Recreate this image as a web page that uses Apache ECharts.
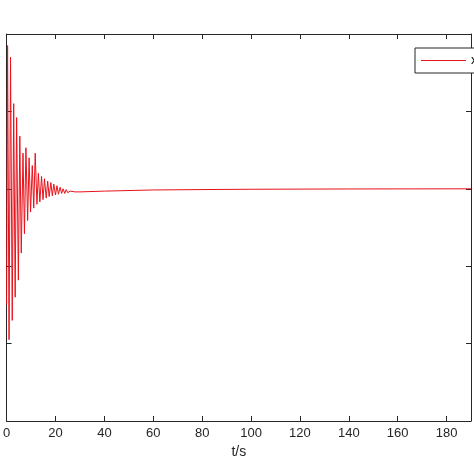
<!DOCTYPE html>
<html>
<head>
<meta charset="utf-8">
<script src="https://cdn.jsdelivr.net/npm/echarts@6/dist/echarts.min.js"></script>
<style>html,body{margin:0;padding:0;background:#fff}#main{width:474px;height:474px}</style>
</head>
<body>
<div id="main"></div>
<script>
// 响应数据 (t, x1)
var timeData = [0, 0.4, 1.0, 1.6, 2.3, 2.9, 3.5, 4.1, 4.8, 5.4, 6.0, 6.7, 7.3, 7.9, 8.6, 9.2, 9.8, 10.5, 11.1, 11.7,
  12.4, 13.0, 13.6, 14.3, 14.9, 15.5, 16.2, 16.8, 17.4, 18.1, 18.7, 19.3, 20, 20.6, 21.2, 21.9, 22.5, 23.1, 23.8, 24.4,
  25, 26, 28, 30, 40, 60, 80, 100, 140, 190];
var x1Data = [-1.5, 1.85, -1.95, 1.7, -1.7, 1.1, -1.4, 0.92, -1.18, 0.68, -0.83, 0.46, -0.58, 0.53, -0.41, 0.4, -0.3, 0.3, -0.25, 0.46,
  -0.2, 0.2, -0.17, 0.16, -0.14, 0.13, -0.12, 0.1, -0.1, 0.08, -0.09, 0.06, -0.08, 0.04, -0.07, 0.02, -0.06, 0.0, -0.06, -0.01,
  -0.05, -0.03, -0.04, -0.04, -0.03, -0.015, -0.01, -0.006, -0.002, 0];
var xTicks = [0, 20, 40, 60, 80, 100, 120, 140, 160, 180];

var seriesData = timeData.map(function (t, i) { return [t, x1Data[i]]; });

var myChart = echarts.init(document.getElementById('main'));
var axisLine = { show: true, onZero: false, lineStyle: { color: '#262626', width: 1 } };
var tick = { inside: true, length: 5, lineStyle: { color: '#262626' } };
var option = {
  animation: false,
  backgroundColor: '#fff',
  grid: { left: 4, top: 34, right: -18, bottom: 53 },
  legend: {
    left: 415, top: 48, itemWidth: 45, itemHeight: 1,
    backgroundColor: '#fff', borderColor: '#262626', borderWidth: 1, padding: [6, 6],
    icon: 'rect',
    textStyle: { fontFamily: 'Liberation Sans', fontSize: 13, color: '#000' },
    data: ['x1']
  },
  xAxis: [{
    type: 'value', min: 0, max: 190, interval: 20,
    name: 't/s', nameLocation: 'middle', nameGap: 24,
    nameTextStyle: { fontFamily: 'Liberation Sans', fontSize: 14, color: '#262626' },
    axisLine: axisLine, axisTick: tick,
    axisLabel: { fontFamily: 'Liberation Sans', fontSize: 13, color: '#262626', margin: 6,
      formatter: function (v) { return xTicks.indexOf(v) >= 0 ? v : ''; } },
    splitLine: { show: false }
  }, {
    type: 'value', position: 'top', min: 0, max: 190, interval: 20,
    axisLine: axisLine, axisTick: tick,
    axisLabel: { show: false }, splitLine: { show: false }
  }],
  yAxis: [{
    type: 'value', min: -3, max: 2, interval: 1,
    axisLine: axisLine, axisTick: tick,
    axisLabel: { show: false }, splitLine: { show: false }
  }, {
    type: 'value', position: 'right', min: -3, max: 2, interval: 1,
    axisLine: axisLine, axisTick: tick,
    axisLabel: { show: false }, splitLine: { show: false }
  }],
  series: [{
    name: 'x1', type: 'line', data: seriesData, showSymbol: false,
    lineStyle: { color: '#e8121b', width: 1 }, itemStyle: { color: '#e8121b' }
  }]
};
myChart.setOption(option);
</script>
</body>
</html>
